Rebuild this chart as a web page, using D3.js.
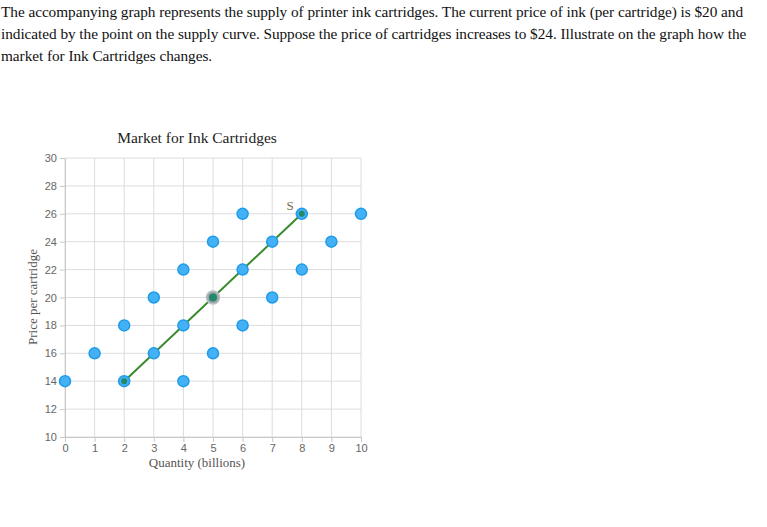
<!DOCTYPE html>
<html>
<head>
<meta charset="utf-8">
<script src="https://cdn.jsdelivr.net/npm/d3@7"></script>
<style>
  body { margin: 0; background: #fff; }
  .prompt { font-family: "Liberation Serif", "Times New Roman", serif; font-size: 15.3px; line-height: 22px; color: #111; padding: 1px 0 0 1px; white-space: nowrap; letter-spacing: -0.05px; }
</style>
</head>
<body>
<div class="prompt">The accompanying graph represents the supply of printer ink cartridges. The current price of ink (per cartridge) is $20 and<br>indicated by the point on the supply curve. Suppose the price of cartridges increases to $24. Illustrate on the graph how the<br>market for Ink Cartridges changes.</div>
<div id="chart"></div>
<script>
// draggable grid points (quantity, price)
const gridQty   = [0, 1, 2, 2, 3, 3, 4, 4, 4, 5, 5, 6, 6, 6, 7, 7, 8, 8, 9, 10];
const gridPrice = [14, 16, 14, 18, 16, 20, 14, 18, 22, 16, 24, 18, 22, 26, 20, 24, 22, 26, 24, 26];
// supply curve
const supplyQty   = [2, 8];
const supplyPrice = [14, 26];
// current point
const currentQty = 5, currentPrice = 20;
const xTicks = [0, 1, 2, 3, 4, 5, 6, 7, 8, 9, 10];
const yTicks = [10, 12, 14, 16, 18, 20, 22, 24, 26, 28, 30];

const W = 767, H = 455;
const svg = d3.select("#chart").append("svg")
    .attr("width", W)
    .attr("height", H)
    .style("position", "absolute")
    .style("left", "0px")
    .style("top", "0px")
    .style("overflow", "visible");

const x = d3.scaleLinear().domain([0, 10]).range([65, 361]);
const y = d3.scaleLinear().domain([10, 30]).range([437, 158]);

// grid
svg.append("g").selectAll("line").data(xTicks).enter().append("line")
    .attr("x1", d => x(d)).attr("x2", d => x(d))
    .attr("y1", y(30)).attr("y2", y(10))
    .attr("stroke", "#dcdcdc");
svg.append("g").selectAll("line").data(yTicks).enter().append("line")
    .attr("x1", x(0)).attr("x2", x(10))
    .attr("y1", d => y(d)).attr("y2", d => y(d))
    .attr("stroke", "#dcdcdc");

// axes
const xAxis = svg.append("g")
    .attr("transform", "translate(0," + y(10) + ")")
    .call(d3.axisBottom(x).tickValues(xTicks).tickSize(5).tickSizeOuter(0));
const yAxis = svg.append("g")
    .attr("transform", "translate(" + x(0) + ",0)")
    .call(d3.axisLeft(y).tickValues(yTicks).tickSize(5).tickSizeOuter(0));
[xAxis, yAxis].forEach(a => {
    a.selectAll("path, line").attr("stroke", "#c8c8c8");
    a.selectAll("text").attr("fill", "#666")
        .style("font-family", "'Liberation Sans', Arial, sans-serif")
        .style("font-size", "11px");
});
xAxis.selectAll("text").attr("dy", "0.6em");

// titles
svg.append("text")
    .attr("x", 197).attr("y", 143)
    .attr("text-anchor", "middle")
    .style("font-family", "'Liberation Serif', 'Times New Roman', serif")
    .style("font-size", "15.5px")
    .attr("fill", "#222")
    .text("Market for Ink Cartridges");
svg.append("text")
    .attr("x", 197).attr("y", 467)
    .attr("text-anchor", "middle")
    .style("font-family", "'Liberation Serif', 'Times New Roman', serif")
    .style("font-size", "13px")
    .attr("fill", "#555")
    .text("Quantity (billions)");
svg.append("text")
    .attr("transform", "translate(37," + 297 + ") rotate(-90)")
    .attr("text-anchor", "middle")
    .style("font-family", "'Liberation Serif', 'Times New Roman', serif")
    .style("font-size", "13px")
    .attr("fill", "#555")
    .text("Price per cartridge");

// supply line
const line = d3.line().x(d => x(d[0])).y(d => y(d[1]));
svg.append("path")
    .datum(supplyQty.map((q, i) => [q, supplyPrice[i]]))
    .attr("d", line)
    .attr("stroke", "#3a8a2e")
    .attr("stroke-width", 2)
    .attr("fill", "none");
svg.append("text")
    .attr("x", x(supplyQty[1]) - 8).attr("y", y(supplyPrice[1]) - 4)
    .attr("text-anchor", "end")
    .style("font-family", "'Liberation Serif', 'Times New Roman', serif")
    .style("font-size", "13px")
    .attr("fill", "#7a6a50")
    .text("S");

// grid points
svg.append("g").selectAll("circle")
    .data(gridQty.map((q, i) => [q, gridPrice[i]]))
    .enter().append("circle")
    .attr("cx", d => x(d[0]))
    .attr("cy", d => y(d[1]))
    .attr("r", 5.5)
    .attr("fill", "#45b1f5")
    .attr("stroke", "#1e9be9")
    .attr("stroke-width", 1.5);

// supply endpoints
svg.append("g").selectAll("circle")
    .data(supplyQty.map((q, i) => [q, supplyPrice[i]]))
    .enter().append("circle")
    .attr("cx", d => x(d[0]))
    .attr("cy", d => y(d[1]))
    .attr("r", 3)
    .attr("fill", "#23896a");

// current point
svg.append("circle")
    .attr("cx", x(currentQty)).attr("cy", y(currentPrice))
    .attr("r", 6.5)
    .attr("fill", "#9aa4aa")
    .attr("stroke", "#b8c0c6")
    .attr("stroke-width", 1.5);
svg.append("circle")
    .attr("cx", x(currentQty)).attr("cy", y(currentPrice))
    .attr("r", 4)
    .attr("fill", "#23896a");
</script>
</body>
</html>
